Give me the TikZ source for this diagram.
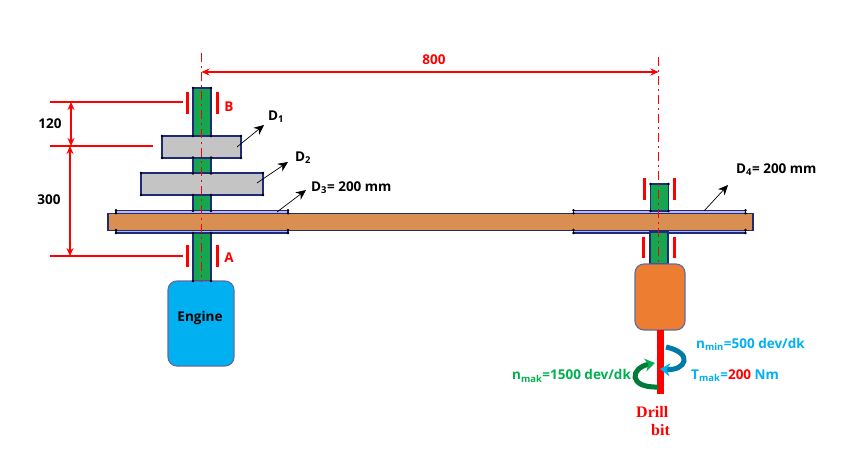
\documentclass[tikz,border=0pt]{standalone}
\usepackage{fontspec}
\setmainfont{Open Sans}
\newfontfamily\drillfont{Liberation Serif}
\usetikzlibrary{arrows.meta}
\usetikzlibrary{positioning}
\definecolor{shaftgreen}{HTML}{17A650}
\definecolor{discgray}{HTML}{C4C4C4}
\definecolor{beltbrown}{HTML}{D98F52}
\definecolor{striplav}{HTML}{B9B9EC}
\definecolor{edgeblue}{HTML}{1F2A7A}
\definecolor{engineblue}{HTML}{00B0F0}
\definecolor{motororange}{HTML}{ED7D31}
\definecolor{labelgreen}{HTML}{00B050}
\tikzstyle{part} = [rectangle, inner sep=0pt, outer sep=0pt, line width=1.1pt, draw=edgeblue]
\tikzstyle{shaft} = [part, fill=shaftgreen, minimum width=18pt]
\tikzstyle{disc} = [part, fill=discgray, minimum height=22pt]
\tikzstyle{strip} = [part, fill=striplav, minimum height=3pt, minimum width=172pt]
\tikzstyle{housing} = [part, rounded corners=9pt, draw=edgeblue!70!white]
\tikzstyle{txt} = [inner sep=0pt, font=\bfseries\fontsize{13.5}{15}\selectfont]
\tikzstyle{centerline} = [draw=red, line width=1.7pt, dash pattern=on 9pt off 4pt on 2pt off 4pt]
\tikzstyle{dimline} = [red, line width=1.4pt]
\tikzstyle{dimarrow} = [red, line width=1.4pt, {Stealth[length=8pt,width=7pt]}-{Stealth[length=8pt,width=7pt]}]
\tikzstyle{bearing} = [draw=red, line width=3pt]
\tikzstyle{leader} = [black, line width=0.7pt, -{Stealth[length=10pt,width=9pt]}]
\begin{document}
\begin{tikzpicture}[x=1pt,y=-1pt]
 \useasboundingbox (0,0) rectangle (847,452);

 \node[shaft,minimum height=48pt,name=shafttop] at (202,112) {};
 \node[shaft,minimum height=16pt,name=shaftmid] at (202,165.5) {};
 \node[shaft,minimum height=16pt,name=shaftlow] at (202,203) {};
 \node[shaft,minimum height=48pt,name=shaftbot] at (202,257) {};
 \node[disc,minimum width=79pt,name=discone] at (201.5,147) {};
 \node[disc,minimum width=122pt,name=disctwo] at (202,184) {};

 \node[strip,name=stripa] at (202,211.8) {};
 \node[strip,name=stripb] at (202,231.5) {};
 \node[strip,name=stripc] at (659.5,211.8) {};
 \node[strip,name=stripd] at (659.5,231.5) {};
 \node[part,fill=beltbrown,minimum width=645pt,minimum height=17pt,name=belt] at (430.5,221.7) {};

 \node[shaft,minimum height=27pt,name=shaftright] at (659.5,197.5) {};
 \node[shaft,minimum height=32pt,name=shaftdrive] at (659,248) {};

 \node[housing,fill=engineblue,minimum width=66pt,minimum height=85pt,name=engine] at (201,323.5) {};
 \node[housing,fill=motororange,minimum width=50pt,minimum height=66pt,name=motor] at (660,297) {};
 \node[fill=red,inner sep=0pt,minimum width=7pt,minimum height=64pt,name=drill] at (660.5,362) {};

 \foreach \n in {shafttop,shaftmid,shaftlow,shaftbot,discone,disctwo,stripa,stripb,stripc,stripd,shaftright}
   \foreach \a in {north west,north east,south west,south east}
     \fill (\n.\a) circle (1.4);

 \coordinate (axisatop) at (201.5,53);
 \coordinate (axisabot) at (201.5,282);
 \coordinate (axisbtop) at (658.5,57);
 \coordinate (axisbbot) at (658.5,263);
 \draw[centerline] (axisatop) -- (axisabot);
 \draw[centerline] (axisbtop) -- (axisbbot);

 \coordinate (dimstart) at (201.5,72);
 \coordinate (dimend) at (658.5,72);
 \draw[dimarrow] (dimstart) to node[anchor=south,txt,yshift=7pt,text=red,xshift=4pt]{800} (dimend);

 \coordinate (extafrom) at (50,102);
 \coordinate (extato) at (183,102);
 \coordinate (extbfrom) at (50,146);
 \coordinate (extbto) at (153,146);
 \coordinate (extcfrom) at (50,256);
 \coordinate (extcto) at (183,256);
 \draw[dimline] (extafrom) -- (extato);
 \draw[dimline] (extbfrom) -- (extbto);
 \draw[dimline] (extcfrom) -- (extcto);

 \coordinate (dimaup) at (71,102);
 \coordinate (dimadown) at (71,146);
 \coordinate (dimbup) at (70,146);
 \coordinate (dimbdown) at (70,256);
 \draw[dimarrow] (dimaup) to node[txt,text=black,xshift=-21pt]{120} (dimadown);
 \draw[dimarrow] (dimbup) to node[txt,text=black,xshift=-21pt,yshift=1.5pt]{300} (dimbdown);

 \coordinate (bba) at (187,92);  \coordinate (bbb) at (187,114);
 \coordinate (bbc) at (217,92);  \coordinate (bbd) at (217,114);
 \coordinate (baa) at (187,245); \coordinate (bab) at (187,267);
 \coordinate (bac) at (217,245); \coordinate (bad) at (217,267);
 \coordinate (bca) at (644,178); \coordinate (bcb) at (644,200);
 \coordinate (bcc) at (674,178); \coordinate (bcd) at (674,200);
 \coordinate (bda) at (643,237); \coordinate (bdb) at (643,258);
 \coordinate (bdc) at (674,237); \coordinate (bdd) at (674,258);
 \draw[bearing] (bba) -- (bbb);
 \draw[bearing] (bbc) -- (bbd);
 \draw[bearing] (baa) -- (bab);
 \draw[bearing] (bac) -- (bad);
 \draw[bearing] (bca) -- (bcb);
 \draw[bearing] (bcc) -- (bcd);
 \draw[bearing] (bda) -- (bdb);
 \draw[bearing] (bdc) -- (bdd);

 \node[txt,text=red,name=labelb] at (229,107) {B};
 \node[txt,text=red,name=labela] at (229,258) {A};
 \node[txt,name=labelengine] at (200,318) {Engine};

 \node[txt,anchor=west,name=labeldone] at (268,117) {D\textsubscript{1}};
 \node[txt,anchor=west,name=labeldtwo] at (295,158) {D\textsubscript{2}};
 \node[txt,anchor=west,name=labeldthree] at (311,188) {D\textsubscript{3}= 200 mm};
 \node[txt,anchor=west,name=labeldfour] at (736,170) {D\textsubscript{4}= 200 mm};

 \coordinate (tailone) at (237,147);
 \coordinate (headone) at (264,125);
 \coordinate (tailtwo) at (257,183);
 \coordinate (headtwo) at (288,162);
 \coordinate (tailthree) at (277,212);
 \coordinate (headthree) at (306,190);
 \coordinate (tailfour) at (704,211);
 \coordinate (headfour) at (728,185);
 \draw[leader] (tailone) -- (headone);
 \draw[leader] (tailtwo) -- (headtwo);
 \draw[leader] (tailthree) -- (headthree);
 \draw[leader] (tailfour) -- (headfour);

 \coordinate (bluestart) at (666,347);
 \coordinate (blueend) at (660,369);
 \coordinate (greenstart) at (658,387);
 \coordinate (greenend) at (655,363);
 \draw[line width=5pt,color=engineblue!70!black,-{Stealth[length=10pt,width=13pt,color=engineblue]}] (bluestart) .. controls (694,353) and (686,371) .. (blueend);
 \draw[line width=5pt,color=labelgreen!70!black,-{Stealth[length=10pt,width=13pt,color=labelgreen]}] (greenstart) .. controls (628,388) and (630,368) .. (greenend);

 \node[txt,anchor=west,text=engineblue,name=labelnmin] at (696,344) {n\textsubscript{min}=500 dev/dk};
 \node[txt,anchor=west,text=engineblue,name=labeltmak] at (691,376) {T\textsubscript{mak}=\textcolor{red}{200} Nm};
 \node[txt,anchor=west,text=labelgreen,name=labelnmak] at (512,376) {n\textsubscript{mak}=1500 dev/dk};

 \node[txt,anchor=west,text=red,font=\drillfont\bfseries\fontsize{16}{18}\selectfont,name=labeldrill] at (636,412) {Drill};
 \node[txt,anchor=west,text=red,font=\drillfont\bfseries\fontsize{16}{18}\selectfont,name=labelbit] at (651,430) {bit};
\end{tikzpicture}
\end{document}
